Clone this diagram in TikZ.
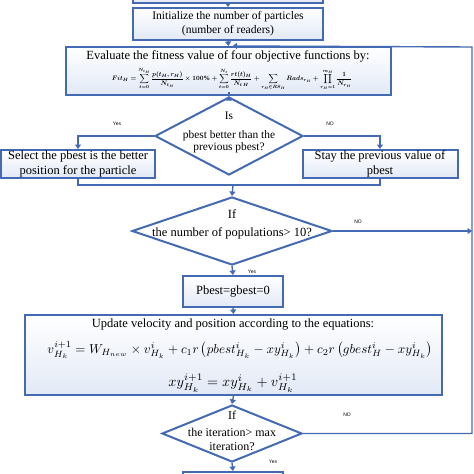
\documentclass[tikz,border=0pt]{standalone}
\usepackage{amsmath,amssymb}
\usepackage{fontspec}
\setmainfont{Liberation Serif}
\newfontfamily\labfont{Liberation Sans}
\usetikzlibrary{shapes.geometric,arrows.meta,calc}
\definecolor{lineblue}{RGB}{68,106,180}
\definecolor{boxfill}{RGB}{226,233,246}
\tikzset{
 box/.style={draw=lineblue, line width=2pt, top color=white, bottom color=boxfill, inner sep=0pt, rectangle},
 dia/.style={draw=lineblue, line width=2pt, diamond, fill=white, inner sep=0pt},
 conn/.style={draw=lineblue, line width=1.4pt},
 arr/.style={conn, -{Triangle[width=6pt,length=4.5pt]}},
 txt/.style={font=\fontsize{12.5}{15}\selectfont, align=center, text=black, inner sep=0pt},
 yn/.style={font=\labfont\fontsize{5}{6}\selectfont, inner sep=0pt},
}
\begin{document}
\begin{tikzpicture}[x=1pt,y=-1pt]
\clip (0,0) rectangle (474,474);
\fill[white] (0,0) rectangle (474,474);
% boxes
\node[box, minimum width=190pt, minimum height=16pt] (prev) at (228,-5) {};
\node[box, minimum width=190pt, minimum height=32pt] (init) at (228,24) {};
\node[txt, font=\fontsize{11.6}{14}\selectfont] at (init) {Initialize the number of particles\\(number of readers)};
\node[box, minimum width=325pt, minimum height=48pt] (eval) at (228.5,71) {};
\node[txt] at (228,56) {Evaluate the fitness value of four objective functions by:};
\node[inner sep=0pt] at (232,79) {\resizebox{240pt}{!}{\boldmath$\displaystyle Fit_H=\sum_{t=0}^{N_{t_H}}\frac{p(t_H,r_H)}{N_{t_H}}\times 100\%+\sum_{t=0}^{N_t}\frac{rt(t)_H}{N_{t\,H}}+\sum_{r_H\in RS_H}Rads_{r_H}+\prod_{r_H=1}^{m_H}\frac{1}{N_{r_H}}$}};
% diamond 1
\node[dia, minimum width=148pt, minimum height=78pt] (d1) at (229,136) {};
\node[txt, font=\fontsize{11.4}{12}\selectfont] at (229,132) {Is\\[7pt]pbest better than the\\previous pbest?};
\node[box, minimum width=154pt, minimum height=28pt] (sel) at (78,164) {};
\node[txt] at (sel) {Select the pbest is the better\\position for the particle};
\node[box, minimum width=155pt, minimum height=28pt] (stay) at (380,164) {};
\node[txt] at (stay) {Stay the previous value of\\pbest};
\coordinate (merge) at (233,185);
% diamond 2
\node[dia, minimum width=200pt, minimum height=68pt] (d2) at (232,231) {};
\node[txt] at (232,224) {If\\[3pt]the number of populations> 10?};
\node[box, minimum width=100pt, minimum height=31pt] (pb) at (233,291.5) {};
\node[txt] at (pb) {Pbest=gbest=0};
% update box
\node[box, minimum width=417pt, minimum height=80pt] (upd) at (233.5,355) {};
\node[txt] at (233,325) {Update velocity and position according to the equations:};
\node[inner sep=0pt] at (240,350) {\resizebox{385pt}{!}{$v_{H_k}^{i+1}=W_{H_{new}}\times v_{H_k}^{i}+c_1r\left(pbest_{H_k}^{i}-xy_{H_k}^{i}\right)+c_2r\left(gbest_{H}^{i}-xy_{H_k}^{i}\right)$}};
\node[inner sep=0pt] at (233,383) {\resizebox{129pt}{!}{$xy_{H_k}^{i+1}=xy_{H_k}^{i}+v_{H_k}^{i+1}$}};
% diamond 3
\node[dia, minimum width=140pt, minimum height=57pt] (d3) at (232,433.5) {};
\node[txt, font=\fontsize{12}{14}\selectfont] at (232,431) {If\\[3pt]the iteration> max\\iteration?};
\node[box, minimum width=100pt, minimum height=20pt] (fin) at (233,482) {};
\coordinate (loopR) at (472,47);
% connectors
\draw[arr] (prev.south) -- (init.north);
\draw[arr] (init.south) -- (eval.north);
\draw[arr] (eval.south -| d1.north) -- (d1.north);
\draw[arr] (d1.west) -| (sel.north);
\draw[arr] (d1.east) -| (stay.north);
\draw[conn] (sel.south) |- (merge) -| (stay.south);
\draw[arr] (merge) -- (d2.north);
\draw[arr] (d2.east) -- (d2.east -| loopR);
\draw[arr] (d2.south) -- (pb.north);
\draw[arr] (pb.south) -- (upd.north);
\draw[arr] (upd.south) -- (d3.north);
\draw[arr] (d3.south) -- (fin.north);
\draw[arr] (d3.east) -- (d3.east -| loopR) -- (loopR) -- ($(eval.north)+(4,0)$);
% labels
\node[yn] at (117,124) {Yes};
\node[yn] at (330,124) {NO};
\node[yn] at (358,222) {NO};
\node[yn] at (252,272) {Yes};
\node[yn] at (347,415) {NO};
\node[yn] at (273,462) {Yes};
\end{tikzpicture}
\end{document}
